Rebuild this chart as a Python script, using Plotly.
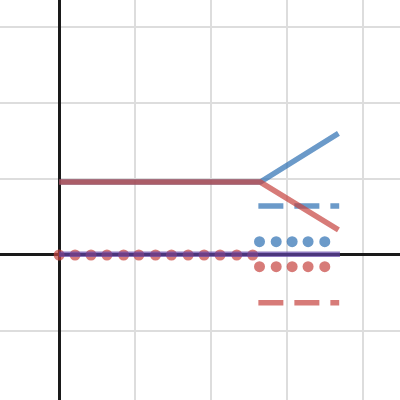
import plotly.graph_objects as go

# values
blue_x = [0, 2.65, 3.68]
blue_y = [0.96, 0.96, 1.60]
red_x = [0, 2.65, 3.68]
red_y = [0.96, 0.96, 0.33]

dash_x = [2.625, 3.69]
blue_dash_y = [0.645, 0.645]
red_dash_y = [-0.627, -0.627]

dot_x = [2.64, 2.86, 3.07, 3.28, 3.50]
blue_dot_y = [0.175] * 5
red_dot_y = [-0.154] * 5

axis_dot_x = [0, 0.21, 0.42, 0.63, 0.85, 1.05, 1.27, 1.48, 1.70, 1.91, 2.12, 2.34, 2.55]
axis_dot_y = [0] * 13

purple_x = [0, 3.70]
purple_y = [0.01, 0.01]

BLUE = "#2d70b3"
RED = "#c74440"
PURPLE = "#6042a6"
OP = 0.7
LW = 5.5
MS = 11

fig = go.Figure()
fig.add_trace(go.Scatter(x=blue_x, y=blue_y, mode="lines", opacity=OP,
                         line=dict(color=BLUE, width=LW)))
fig.add_trace(go.Scatter(x=dash_x, y=blue_dash_y, mode="lines", opacity=OP,
                         line=dict(color=BLUE, width=LW, dash="25px,11px")))
fig.add_trace(go.Scatter(x=dot_x, y=blue_dot_y, mode="markers", opacity=OP,
                         marker=dict(color=BLUE, size=MS, line=dict(width=0))))
fig.add_trace(go.Scatter(x=red_x, y=red_y, mode="lines", opacity=OP,
                         line=dict(color=RED, width=LW)))
fig.add_trace(go.Scatter(x=dot_x, y=red_dot_y, mode="markers", opacity=OP,
                         marker=dict(color=RED, size=MS, line=dict(width=0))))
fig.add_trace(go.Scatter(x=dash_x, y=red_dash_y, mode="lines", opacity=OP,
                         line=dict(color=RED, width=LW, dash="25px,11px")))
fig.add_trace(go.Scatter(x=axis_dot_x, y=axis_dot_y, mode="markers", opacity=OP,
                         marker=dict(color=RED, size=MS, line=dict(width=0))))
fig.add_trace(go.Scatter(x=purple_x, y=purple_y, mode="lines", opacity=OP,
                         line=dict(color=PURPLE, width=LW)))

axis_style = dict(showgrid=True, gridcolor="#dddddd", gridwidth=1.5, dtick=1,
                  zeroline=True, zerolinecolor="#1a1a1a", zerolinewidth=3,
                  showticklabels=False, ticks="", showline=False)
fig.update_xaxes(range=[-0.779, 4.491], **axis_style)
fig.update_yaxes(range=[-1.908, 3.355], **axis_style)
fig.update_layout(width=400, height=400, margin=dict(l=0, r=0, t=0, b=0),
                  plot_bgcolor="white", paper_bgcolor="white", showlegend=False)

# drop the browser's default page margin so the plot fills the window
fig.write_html("out.html", config={"displayModeBar": False},
               post_script="document.body.style.margin='0';")
